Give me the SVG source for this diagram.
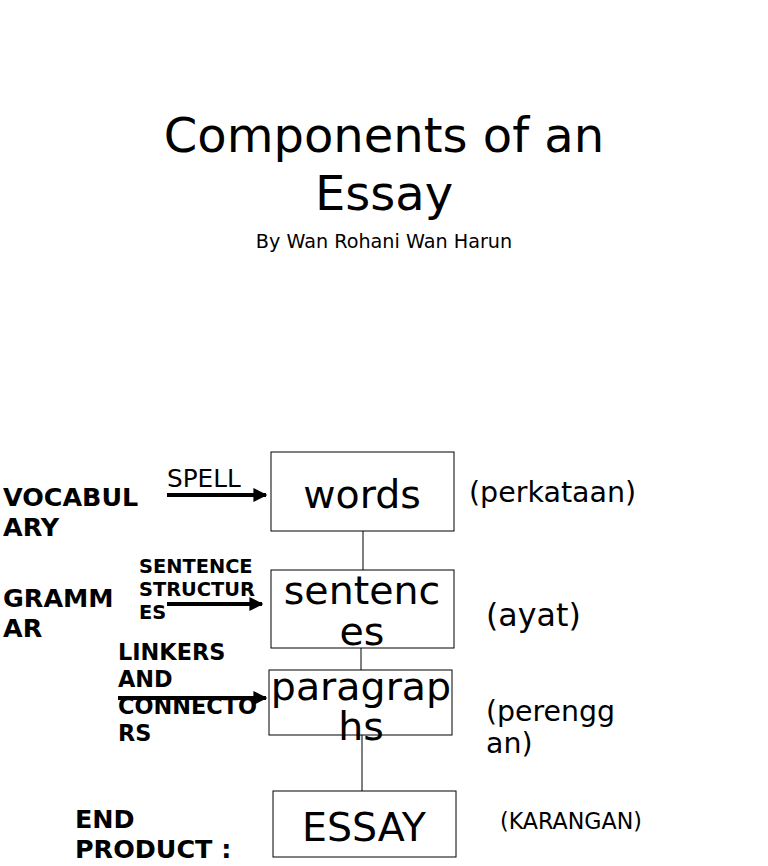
<svg xmlns="http://www.w3.org/2000/svg" width="768" height="866" viewBox="0 0 768 866">
<style>
text{font-family:"DejaVu Sans","Liberation Sans",sans-serif;fill:#000}
.box{fill:#fff;stroke:#000;stroke-width:1}
.big{font-size:39.5px;text-anchor:middle}
.lbl{font-size:25.4px;font-weight:bold}
.conn{stroke:#000;stroke-width:1;fill:none}
.arr{stroke:#000;stroke-width:4;fill:none;marker-end:url(#ah)}
</style>
<defs>
<marker id="ah" viewBox="0 0 10 10" refX="9" refY="5" markerWidth="4" markerHeight="3.5" orient="auto" markerUnits="strokeWidth">
<path d="M0,0 L10,5 L0,10 z" fill="#000"/>
</marker>
</defs>
<rect width="768" height="866" fill="#fff"/>
<g id="title">
<text x="384" y="152" font-size="48" text-anchor="middle">Components of an</text>
<text x="384" y="210" font-size="48" text-anchor="middle">Essay</text>
<text x="384" y="248" font-size="19.2" text-anchor="middle">By Wan Rohani Wan Harun</text>
</g>
<g id="connectors">
<line class="conn" x1="363" y1="531" x2="363" y2="570"/>
<line class="conn" x1="361" y1="648" x2="361" y2="670"/>
<line class="conn" x1="362" y1="735" x2="362" y2="791"/>
<line class="arr" x1="167" y1="495" x2="266" y2="495"/>
<line class="arr" x1="167" y1="604" x2="262" y2="604"/>
<line class="arr" x1="118" y1="698" x2="266" y2="698"/>
</g>
<g id="words">
<rect class="box" x="271" y="452" width="183" height="79"/>
<text class="big" x="362" y="508">words</text>
</g>
<g id="sentences">
<rect class="box" x="271" y="570" width="183" height="78"/>
<text class="big" x="362" y="604">sentenc</text>
<text class="big" x="362" y="645">es</text>
</g>
<g id="paragraphs">
<rect class="box" x="269" y="670" width="183" height="65"/>
<text class="big" x="361" y="700">paragrap</text>
<text class="big" x="361" y="740">hs</text>
</g>
<g id="essay">
<rect class="box" x="273" y="791" width="183" height="66"/>
<text class="big" x="364" y="841">ESSAY</text>
</g>
<g id="labels">
<text x="167" y="487" font-size="24.7">SPELL</text>
<text class="lbl" x="3" y="506">VOCABUL</text>
<text class="lbl" x="3" y="536">ARY</text>
<text class="lbl" x="3" y="607">GRAMM</text>
<text class="lbl" x="3" y="637">AR</text>
<text x="139" y="573" font-size="19.4" font-weight="bold">SENTENCE</text>
<text x="139" y="596" font-size="19.4" font-weight="bold">STRUCTUR</text>
<text x="139" y="619" font-size="19.4" font-weight="bold">ES</text>
<text x="118" y="660" font-size="22.4" font-weight="bold">LINKERS</text>
<text x="118" y="687" font-size="22.4" font-weight="bold">AND</text>
<text x="118" y="714" font-size="22.4" font-weight="bold">CONNECTO</text>
<text x="118" y="741" font-size="22.4" font-weight="bold">RS</text>
<text class="lbl" x="75" y="828">END</text>
<text class="lbl" x="75" y="858">PRODUCT :</text>
<text x="469" y="502" font-size="28.5">(perkataan)</text>
<text x="486" y="626" font-size="31.7">(ayat)</text>
<text x="486" y="721" font-size="28.4">(perengg</text>
<text x="486" y="753" font-size="28.4">an)</text>
<text x="500" y="829" font-size="22.2">(KARANGAN)</text>
</g>
</svg>
